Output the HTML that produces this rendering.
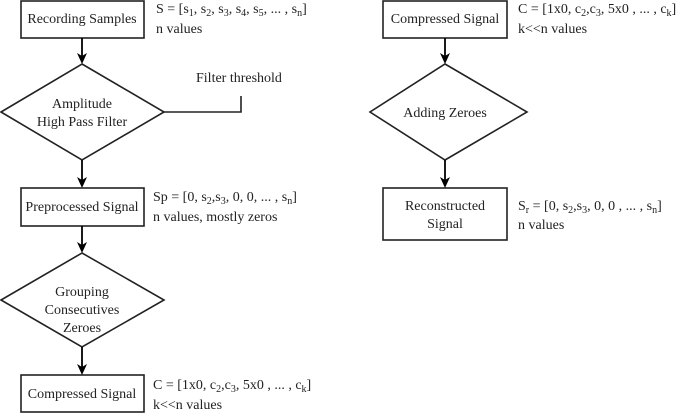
<!DOCTYPE html>
<html><head><meta charset="utf-8"><style>
html,body{margin:0;padding:0;background:#fff;width:685px;height:414px;overflow:hidden}
svg{display:block}
text{font-family:"Liberation Serif",serif;font-size:14px;fill:#222}
.c{text-anchor:middle}
</style></head><body>
<svg width="685" height="414" viewBox="0 0 685 414">
<g stroke="#222" stroke-width="1.6" fill="#fff">
<rect x="21" y="1" width="123" height="37"/>
<polygon points="82,64 164,112 82,160 1,112"/>
<rect x="21" y="188" width="123" height="38"/>
<polygon points="82,253 164,300 82,347 1,300"/>
<rect x="21" y="375" width="123" height="37"/>
<rect x="383" y="1" width="124" height="37"/>
<polygon points="445,64 527,112 445,160 370,112"/>
<rect x="383" y="188" width="124" height="52"/>
<polyline points="164,112 241,112 241,96" fill="none"/>
</g>
<g stroke="#000" stroke-width="1.8">
<line x1="82" y1="38" x2="82" y2="56"/>
<line x1="82" y1="160" x2="82" y2="180"/>
<line x1="82" y1="226" x2="82" y2="245"/>
<line x1="82" y1="347" x2="82" y2="367"/>
<line x1="445" y1="38" x2="445" y2="56"/>
<line x1="445" y1="160" x2="445" y2="180"/>
</g>
<g fill="#000">
<polygon points="77,53 82,56 87,53 82,64"/>
<polygon points="77,177 82,180 87,177 82,188"/>
<polygon points="77,242 82,245 87,242 82,253"/>
<polygon points="77,364 82,367 87,364 82,375"/>
<polygon points="440,53 445,56 450,53 445,64"/>
<polygon points="440,177 445,180 450,177 445,188"/>
</g>
<text class="c" x="82" y="23">Recording Samples</text>
<text class="c" x="82" y="108">Amplitude</text>
<text class="c" x="82" y="126">High Pass Filter</text>
<text class="c" x="82" y="211">Preprocessed Signal</text>
<text class="c" x="82" y="296">Grouping</text>
<text class="c" x="82" y="314">Consecutives</text>
<text class="c" x="82" y="332">Zeroes</text>
<text class="c" x="82" y="398">Compressed Signal</text>
<text class="c" x="445" y="23">Compressed Signal</text>
<text class="c" x="445" y="117">Adding Zeroes</text>
<text class="c" x="445" y="210">Reconstructed</text>
<text class="c" x="445" y="228">Signal</text>
<text x="196" y="82">Filter threshold</text>
<text x="156" y="13">S = [s<tspan font-size="10" dy="3">1</tspan><tspan dy="-3">, s</tspan><tspan font-size="10" dy="3">2</tspan><tspan dy="-3">, s</tspan><tspan font-size="10" dy="3">3</tspan><tspan dy="-3">, s</tspan><tspan font-size="10" dy="3">4</tspan><tspan dy="-3">, s</tspan><tspan font-size="10" dy="3">5</tspan><tspan dy="-3">, ... , s</tspan><tspan font-size="10" dy="3">n</tspan><tspan dy="-3">]</tspan></text>
<text x="156" y="33">n values</text>
<text x="153" y="201">Sp = [0, s<tspan font-size="10" dy="3">2</tspan><tspan dy="-3">,s</tspan><tspan font-size="10" dy="3">3</tspan><tspan dy="-3">, 0, 0, ... , s</tspan><tspan font-size="10" dy="3">n</tspan><tspan dy="-3">]</tspan></text>
<text x="153" y="221">n values, mostly zeros</text>
<text x="153" y="389">C = [1x0, c<tspan font-size="10" dy="3">2</tspan><tspan dy="-3">,c</tspan><tspan font-size="10" dy="3">3</tspan><tspan dy="-3">, 5x0 , ... , c</tspan><tspan font-size="10" dy="3">k</tspan><tspan dy="-3">]</tspan></text>
<text x="153" y="409">k&lt;&lt;n values</text>
<text x="518" y="13">C = [1x0, c<tspan font-size="10" dy="3">2</tspan><tspan dy="-3">,c</tspan><tspan font-size="10" dy="3">3</tspan><tspan dy="-3">, 5x0 , ... , c</tspan><tspan font-size="10" dy="3">k</tspan><tspan dy="-3">]</tspan></text>
<text x="518" y="33">k&lt;&lt;n values</text>
<text x="518" y="210">S<tspan font-size="10" dy="3">r</tspan><tspan dy="-3"> = [0, s</tspan><tspan font-size="10" dy="3">2</tspan><tspan dy="-3">,s</tspan><tspan font-size="10" dy="3">3</tspan><tspan dy="-3">, 0, 0 , ... , s</tspan><tspan font-size="10" dy="3">n</tspan><tspan dy="-3">]</tspan></text>
<text x="518" y="229">n values</text>
</svg>
</body></html>
